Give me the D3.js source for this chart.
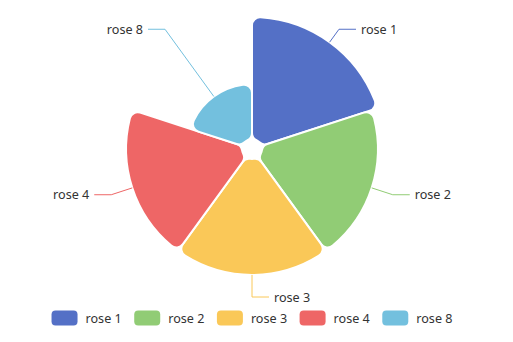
<!DOCTYPE html>
<html>
<head>
<meta charset="utf-8">
<script src="https://cdn.jsdelivr.net/npm/d3@7"></script>
<style>
  body { margin: 0; background: #fff; }
  text { font-family: "Noto Sans", sans-serif; font-size: 12.6px; fill: #333; }
</style>
</head>
<body>
<div id="chart"></div>
<script>
// data
const names = ['rose 1', 'rose 2', 'rose 3', 'rose 4', 'rose 8'];
const values = [40, 38, 38, 38, 18];
const colors = ['#5470c6', '#91cc75', '#fac858', '#ee6666', '#73c0de'];

const W = 513, H = 342;
const CX = 252, CY = 149;
const R0 = 10, R = 132;
const LINE1 = 16, LINE2 = 17;

const svg = d3.select('#chart')
    .append('svg')
    .attr('width', W)
    .attr('height', H);

const g = svg.append('g')
    .attr('transform', `translate(${CX}, ${CY})`);

const data = names.map((n, i) => ({ name: n, value: values[i], color: colors[i] }));

// rose: equal angles, radius by value
const rScale = d3.scaleLinear()
    .domain([0, d3.max(values)])
    .range([R0, R]);

const pie = d3.pie().value(() => 1).sort(null);
const arcs = pie(data);

const arc = d3.arc()
    .innerRadius(R0)
    .outerRadius(d => rScale(d.data.value))
    .cornerRadius(8);

g.selectAll('path.slice')
    .data(arcs)
    .enter()
    .append('path')
    .attr('class', 'slice')
    .attr('d', arc)
    .attr('fill', d => d.data.color)
    .attr('stroke', '#fff')
    .attr('stroke-width', 2);

// labels with leader lines, all ending at the same radius
arcs.forEach(d => {
    const mid = (d.startAngle + d.endAngle) / 2;
    const dx = Math.sin(mid), dy = -Math.cos(mid);
    const r = rScale(d.data.value);
    const x1 = r * dx, y1 = r * dy;
    const x2 = (R + LINE1) * dx, y2 = (R + LINE1) * dy;
    const side = dx < -1e-6 ? -1 : 1;
    const x3 = x2 + side * LINE2;

    g.append('polyline')
        .attr('points', [[x1, y1], [x2, y2], [x3, y2]].map(p => p.join(',')).join(' '))
        .attr('fill', 'none')
        .attr('stroke', d.data.color)
        .attr('stroke-width', 1);

    g.append('text')
        .attr('x', x3 + side * 5)
        .attr('y', y2)
        .attr('text-anchor', side < 0 ? 'end' : 'start')
        .attr('dominant-baseline', 'central')
        .text(d.data.name);
});

// legend
const LEG_Y = 318, ICON_W = 26, ICON_H = 15, TEXT_GAP = 8, ITEM_GAP = 12.5;
const legend = svg.append('g');
let lx = 0;
data.forEach(d => {
    const item = legend.append('g').attr('transform', `translate(${lx}, 0)`);
    item.append('rect')
        .attr('x', 0)
        .attr('y', LEG_Y - ICON_H / 2)
        .attr('width', ICON_W)
        .attr('height', ICON_H)
        .attr('rx', 4)
        .attr('fill', d.color);
    const t = item.append('text')
        .attr('x', ICON_W + TEXT_GAP)
        .attr('y', LEG_Y)
        .attr('dominant-baseline', 'central')
        .text(d.name);
    lx += ICON_W + TEXT_GAP + t.node().getComputedTextLength() + ITEM_GAP;
});
const legW = lx - ITEM_GAP;
legend.attr('transform', `translate(${CX - legW / 2}, 0)`);
</script>
</body>
</html>
